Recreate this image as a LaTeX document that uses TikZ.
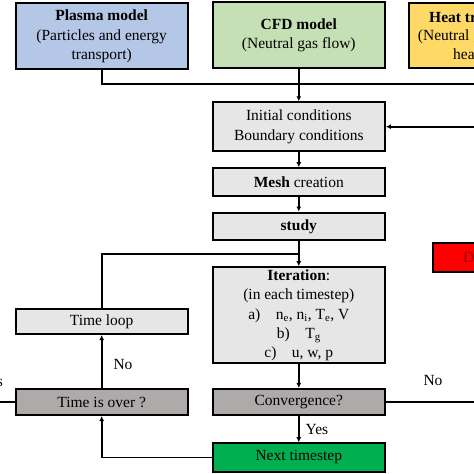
\documentclass[tikz,border=0pt]{standalone}
\usepackage{fontspec}
\setmainfont{Liberation Serif}
\usetikzlibrary{arrows.meta}
\definecolor{plasmablue}{RGB}{180,199,231}
\definecolor{cfdgreen}{RGB}{197,224,180}
\definecolor{heatyellow}{RGB}{255,217,102}
\definecolor{lightgray}{RGB}{231,230,230}
\definecolor{darkgray}{RGB}{174,170,170}
\definecolor{nextgreen}{RGB}{0,176,80}
\definecolor{redbox}{RGB}{255,0,0}
\definecolor{darkred}{RGB}{150,0,0}
\begin{document}
\begin{tikzpicture}[x=1pt,y=-1pt,
  box/.style={draw=black,line width=2.2pt,inner sep=0pt,align=center,
    font=\fontsize{15.5}{19.3}\selectfont,text=black},
  wide/.style={minimum width=172pt},
  conn/.style={line width=1.7pt,draw=black},
  arr/.style={conn,-{Latex[length=5pt,width=5pt]}},
  lbl/.style={inner sep=0pt,font=\fontsize{15.5}{19.3}\selectfont}]
\useasboundingbox (0,0) rectangle (474,474);
\clip (0,0) rectangle (474,474);
\fill[white] (0,0) rectangle (474,474);
% top models
\node[box,wide,fill=plasmablue,minimum height=66pt] (plasma) at (101.7,36.3)
  {\textbf{Plasma model}\\(Particles and energy\\transport)};
\node[box,wide,fill=cfdgreen,minimum height=66pt] (cfd) at (298.8,35.2)
  {\textbf{CFD model}\\(Neutral gas flow)};
\node[box,wide,fill=heatyellow,minimum height=65.6pt] (heat) at (495.3,35.5) {};
\node[lbl,anchor=west] (heatA) at (429,17.3) {\textbf{Heat transfer}};
\node[lbl,anchor=west] (heatB) at (417.7,36.5) {(Neutral gas};
\node[lbl,anchor=west] (heatC) at (453,55.8) {heating)};
% main column
\node[box,wide,fill=lightgray,minimum height=48.7pt] (init) at (298.8,126.7)
  {Initial conditions\\Boundary conditions};
\node[box,wide,fill=lightgray,minimum height=27.4pt] (mesh) at (298.8,182)
  {\textbf{Mesh} creation};
\node[box,wide,fill=lightgray,minimum height=27.3pt] (study) at (298.8,226.3)
  {\textbf{study}};
\node[box,wide,fill=lightgray,minimum height=96pt] (iter) at (298.8,315.3)
  {\textbf{Iteration}:\\(in each timestep)\\a)\quad n\textsubscript{e}, n\textsubscript{i}, T\textsubscript{e}, V\\b)\quad T\textsubscript{g}\\c)\quad u, w, p};
\node[box,wide,fill=darkgray,minimum height=26pt] (conv) at (298.8,402)
  {Convergence?};
\node[box,wide,fill=nextgreen,minimum height=28.4pt] (next) at (298.8,457.5)
  {Next timestep};
% left column
\node[box,wide,fill=lightgray,minimum height=25pt] (timeloop) at (101.7,321.5)
  {Time loop};
\node[box,wide,fill=darkgray,minimum height=26pt] (timeover) at (101.7,402)
  {Time is over ?};
% red box
\node[box,fill=redbox,minimum width=172pt,minimum height=29pt] (red) at (518.7,257.2) {};
\node[lbl,anchor=west,text=darkred] (redtxt) at (463,257.5) {D};
% coordinates
\coordinate (topjoin) at (480,84.3);
\coordinate (rightin) at (480,126.7);
\coordinate (rightout) at (480,402);
\coordinate (leftout) at (-5,402);
\coordinate (branch) at (298.8,254.3);
% connectors
\draw[conn] (plasma.south) |- (topjoin);
\draw[arr] (cfd.south) -- (init.north);
\draw[arr] (rightin) -- (init.east);
\draw[arr] (init.south) -- (mesh.north);
\draw[arr] (mesh.south) -- (study.north);
\draw[arr] (study.south) -- (iter.north);
\draw[conn] (timeloop.north) |- (branch);
\draw[arr] (iter.south) -- (conv.north);
\draw[arr] (conv.south) -- node[lbl,right=6pt] (yes) {Yes} (next.north);
\draw[conn] (conv.east) -- (rightout);
\draw[arr] (next.west) -| (timeover.south);
\draw[arr] (timeover.north) -- node[lbl,right=11pt,pos=0.45] (no1) {No} (timeloop.south);
\draw[conn] (timeover.west) -- (leftout);
\node[lbl] (no2) at (433,380.7) {No};
\node[lbl,anchor=east] (yesleft) at (3,381) {Yes};
\end{tikzpicture}
\end{document}
